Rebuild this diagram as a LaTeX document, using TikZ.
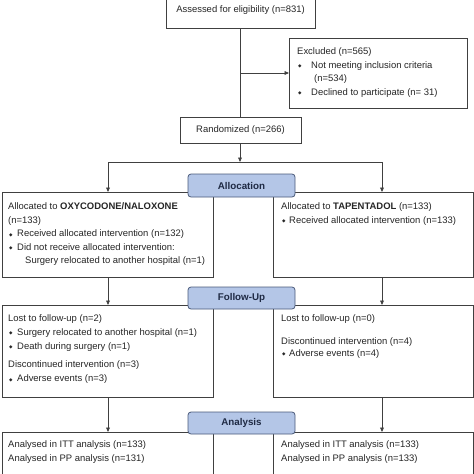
\documentclass[tikz,border=0pt]{standalone}
\usepackage{fontspec}
\setmainfont{Liberation Sans}
\newfontfamily\dejavu{DejaVu Sans}
\usetikzlibrary{arrows.meta}
\definecolor{hdrfill}{HTML}{B4C6E7}
\definecolor{hdrdraw}{HTML}{4A5A7A}
\definecolor{hdrtext}{HTML}{1F2A44}
\definecolor{linecol}{HTML}{404040}
\definecolor{txtcol}{HTML}{262626}
\newcommand{\bul}[1][9pt]{\makebox[#1][l]{\hspace*{1pt}\raisebox{0.6pt}{\dejavu\fontsize{4.5}{5}\selectfont ◆}}}
\tikzset{
  box/.style={draw=linecol, line width=0.8pt, fill=white},
  txt/.style={anchor=north west, inner sep=0pt, align=left, text=txtcol,
    font=\fontsize{9.45}{13.6}\selectfont},
  hdr/.style={draw=hdrdraw, fill=hdrfill, rounded corners=3pt, line width=0.8pt,
    text=hdrtext, font=\fontsize{9.8}{11}\selectfont\bfseries},
  conn/.style={draw=linecol, line width=0.8pt},
  arr/.style={conn, -{Triangle[length=4.5pt,width=3.8pt]}},
}
\begin{document}
\begin{tikzpicture}[x=1pt,y=-1pt]
\useasboundingbox (0,0) rectangle (474,474);
% top
\draw[box] (166,-5) rectangle (315,28);
\node[inner sep=0pt, text=txtcol, font=\fontsize{9.45}{11}\selectfont] (assess) at (240.5,10) {Assessed for eligibility (n=831)};
\coordinate (assessS) at (240,28);
% excluded
\draw[box] (289,38) rectangle (467,108);
\coordinate (exclW) at (289,73);
\node[txt] (excl) at (297,47.5) {Excluded (n=565)\\
\bul[14pt]Not meeting inclusion criteria\\
\hspace*{17pt}(n=534)\\
\bul[14pt]Declined to participate (n= 31)};
% randomized
\draw[box] (180,117) rectangle (301,143);
\node[inner sep=0pt, text=txtcol, font=\fontsize{9.45}{11}\selectfont] (rand) at (240.5,130) {Randomized (n=266)};
\coordinate (randN) at (240,117);
\coordinate (randS) at (240,143);
\coordinate (split) at (240,162);
\coordinate (midA) at (240,73);
\draw[conn] (assessS) -- (randN);
\draw[arr] (midA) -- (exclW);
\draw[arr] (randS) -- (split);
\coordinate (splitL) at (108,162);
\coordinate (splitR) at (382,162);
\draw[conn] (splitL) -- (splitR);
% allocation boxes
\coordinate (allocLN) at (108,192);
\coordinate (allocRN) at (382,192);
\draw[arr] (splitL) -- (allocLN);
\draw[arr] (splitR) -- (allocRN);
\draw[box] (2,192) rectangle (213,277);
\draw[box] (273,192) rectangle (473,277);
\node[txt] (allocLt) at (8,202.5) {Allocated to \textbf{OXYCODONE/NALOXONE}\\
(n=133)\\
\bul Received allocated intervention (n=132)\\
\bul Did not receive allocated intervention:\\
\hspace*{17pt}Surgery relocated to another hospital (n=1)};
\node[txt] (allocRt) at (281,202.5) {Allocated to \textbf{TAPENTADOL} (n=133)\\
\bul[8pt]Received allocated intervention (n=133)};
\node[hdr, minimum width=107pt, minimum height=23pt] (alloc) at (241.5,185.5) {Allocation};
% follow-up
\coordinate (allocLS) at (108,277);
\coordinate (allocRS) at (382,277);
\coordinate (fuLN) at (108,305);
\coordinate (fuRN) at (382,305);
\draw[arr] (allocLS) -- (fuLN);
\draw[arr] (allocRS) -- (fuRN);
\draw[box] (2,305) rectangle (213,397);
\draw[box] (273,305) rectangle (473,397);
\node[txt] (fuLt) at (8,314.5) {Lost to follow-up (n=2)\\[0.4pt]
\bul Surgery relocated to another hospital (n=1)\\[0.4pt]
\bul Death during surgery (n=1)\\[4pt]
Discontinued intervention (n=3)\\[1pt]
\bul Adverse events (n=3)};
\node[txt] (fuRt) at (281,314.5) {Lost to follow-up (n=0)\\[9pt]
Discontinued intervention (n=4)\\[-1.5pt]
\bul[8pt]Adverse events (n=4)};
\node[hdr, minimum width=107pt, minimum height=22pt] (fu) at (241.5,298) {Follow-Up};
% analysis
\coordinate (fuLS) at (108,397);
\coordinate (fuRS) at (382,397);
\coordinate (anLN) at (108,432);
\coordinate (anRN) at (382,432);
\draw[arr] (fuLS) -- (anLN);
\draw[arr] (fuRS) -- (anRN);
\draw[box] (2,432) rectangle (213,480);
\draw[box] (273,432) rectangle (473,480);
\node[txt] (anLt) at (8,440.5) {Analysed in ITT analysis (n=133)\\
Analysed in PP analysis (n=131)};
\node[txt] (anRt) at (281,440.5) {Analysed in ITT analysis (n=133)\\
Analysed in PP analysis (n=133)};
\node[hdr, minimum width=107pt, minimum height=22pt] (an) at (241.5,423) {Analysis};
\end{tikzpicture}
\end{document}
